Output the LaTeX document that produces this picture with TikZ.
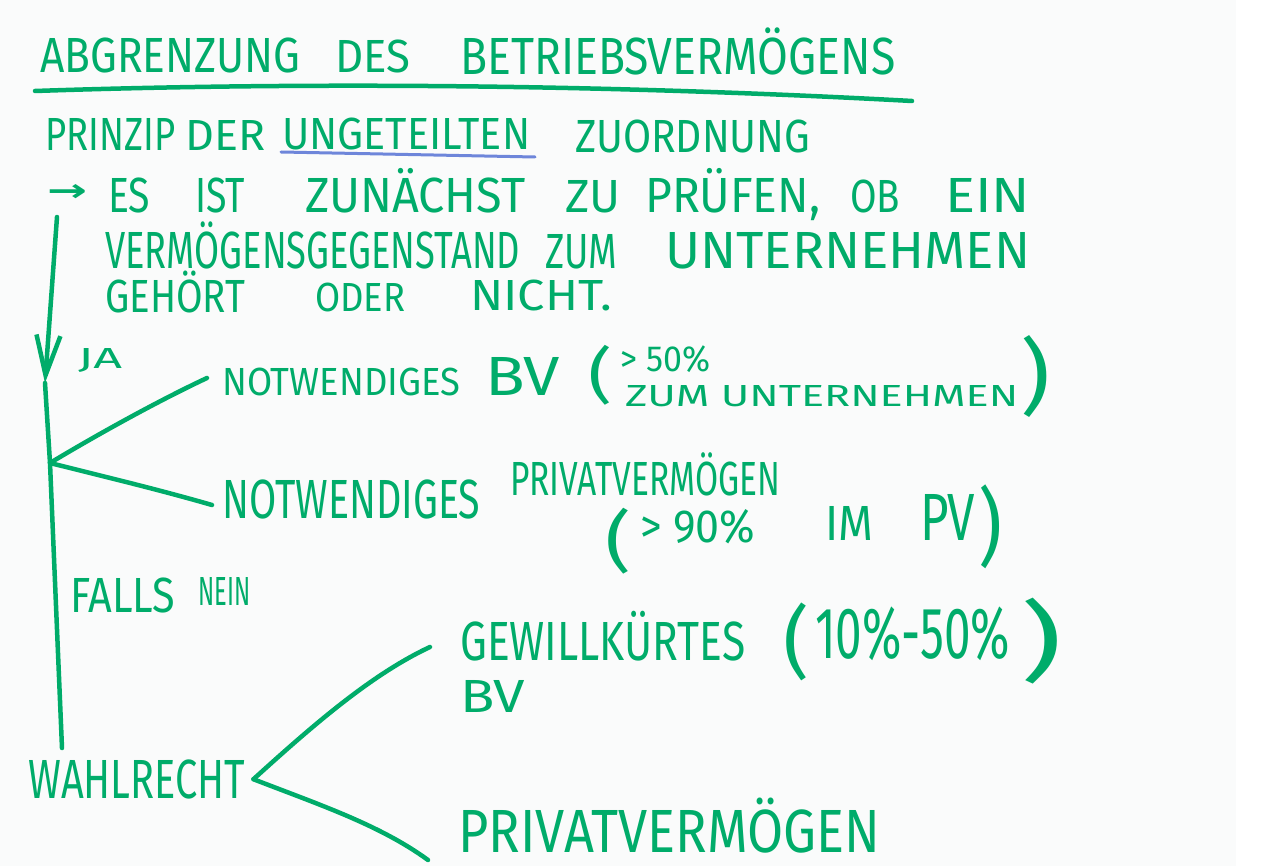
\documentclass[tikz,border=0pt]{standalone}
\usepackage{fontspec}
\setmainfont{Fira Sans}
\newfontfamily\arrowfont{DejaVu Sans}
\usetikzlibrary{arrows.meta}

\definecolor{ink}{RGB}{0,172,106}
\definecolor{blueink}{RGB}{75,105,210}
\definecolor{paper}{RGB}{250,251,251}

% handwritten word, squeezed into its box (width, cap height)
\newcommand{\hw}[3]{\resizebox{#1pt}{#2pt}{\smash{#3}\vphantom{X}}}
% tall bracket
\newcommand{\hp}[3]{\resizebox*{#1pt}{#2pt}{#3}}

\begin{document}
\begin{tikzpicture}[x=1pt,y=-1pt,
   hand/.style={inner sep=0pt, anchor=north west, text=ink},
   pen/.style={draw=ink, line width=4.5pt, line cap=round, line join=round}]
   \useasboundingbox (0,0) rectangle (1275,866);
   \fill[white] (0,0) rectangle (1275,866);
   \fill[paper] (0,0) rectangle (1236,866);

   % title
   \node[hand] (t1) at (40,38) {\hw{260}{34}{ABGRENZUNG}};
   \node[hand] (t2) at (335,40) {\hw{75}{32}{DES}};
   \node[hand] (t3) at (460,38) {\hw{435}{36}{BETRIEBSVERMÖGENS}};
   \draw[pen] (35,91) .. controls (300,82) and (600,84) .. (912,101);

   % principle
   \node[hand] (p1) at (45,118) {\hw{130}{32}{PRINZIP}};
   \node[hand] (p2) at (185,120) {\hw{80}{30}{DER}};
   \node[hand] (p3) at (282,118) {\hw{248}{31}{UNGETEILTEN}};
   \node[hand] (p4) at (575,120) {\hw{235}{32}{ZUORDNUNG}};
   \draw[draw=blueink, line width=3pt, line cap=round, opacity=0.8] (281,152) -- (535,157);

   % text
   \node[hand] (arr) at (47,184) {\hp{40}{17}{\arrowfont\bfseries →}};
   \node[hand] (a1) at (108,178) {\hw{42}{34}{ES}};
   \node[hand] (a2) at (195,178) {\hw{50}{34}{IST}};
   \node[hand] (a3) at (305,178) {\hw{220}{34}{ZUNÄCHST}};
   \node[hand] (a4) at (565,180) {\hw{55}{32}{ZU}};
   \node[hand] (a5) at (645,178) {\hw{175}{34}{PRÜFEN,}};
   \node[hand] (a6) at (850,180) {\hw{50}{32}{OB}};
   \node[hand] (a7) at (945,178) {\hw{85}{34}{EIN}};
   \node[hand] (b1) at (105,232) {\hw{415}{36}{VERMÖGENSGEGENSTAND}};
   \node[hand] (b2) at (545,234) {\hw{72}{34}{ZUM}};
   \node[hand] (b3) at (665,232) {\hw{365}{36}{UNTERNEHMEN}};
   \node[hand] (c1) at (105,280) {\hw{140}{32}{GEHÖRT}};
   \node[hand] (c2) at (315,283) {\hw{90}{28}{ODER}};
   \node[hand] (c3) at (470,280) {\hw{142}{30}{NICHT.}};

   % yes branch
   \node[hand] (ja) at (78,348) {\hw{44}{20}{JA}};
   \node[hand] (nbv1) at (222,368) {\hw{238}{27}{NOTWENDIGES}};
   \node[hand] (nbv2) at (485,357) {\hw{75}{38}{BV}};
   \node[hand] (nbv3) at (588,345) {\hp{24}{60}{(}};
   \node[hand] (nbv4) at (620,346) {\hw{90}{25}{> 50\%}};
   \node[hand] (nbv5) at (625,385) {\hw{393}{21}{ZUM UNTERNEHMEN}};
   \node[hand] (nbv6) at (1020,335) {\hp{30}{82}{)}};
   \node[hand] (npv1) at (222,480) {\hw{258}{38}{NOTWENDIGES}};
   \node[hand] (npv2) at (510,462) {\hw{270}{33}{PRIVATVERMÖGEN}};
   \node[hand] (npv3) at (605,508) {\hp{26}{66}{(}};
   \node[hand] (npv4) at (640,510) {\hw{115}{32}{> 90\%}};
   \node[hand] (npv5) at (825,506) {\hw{48}{34}{IM}};
   \node[hand] (npv6) at (920,494) {\hw{55}{46}{PV}};
   \node[hand] (npv7) at (978,485) {\hp{24}{84}{)}};

   % no branch
   \node[hand] (nein1) at (70,578) {\hw{105}{34}{FALLS}};
   \node[hand] (nein2) at (198,577) {\hw{52}{28}{NEIN}};
   \node[hand] (wahl) at (28,760) {\hw{217}{38}{WAHLRECHT}};
   \node[hand] (gbv1) at (460,622) {\hw{285}{38}{GEWILLKÜRTES}};
   \node[hand] (gbv2) at (783,603) {\hp{26}{78}{(}};
   \node[hand] (gbv3) at (815,608) {\hw{195}{50}{10\%-50\%}};
   \node[hand] (gbv4) at (1020,598) {\hp{42}{86}{)}};
   \node[hand] (gbv5) at (460,680) {\hw{65}{32}{BV}};
   \node[hand] (pv) at (458,810) {\hw{422}{42}{PRIVATVERMÖGEN}};

   % connectors
   \coordinate (flowTop) at (57,217);
   \coordinate (jaTip) at (45,383);
   \coordinate (forkJa) at (50,463);
   \coordinate (flowEnd) at (62,748);
   \coordinate (nbvEnd) at (207,378);
   \coordinate (npvEnd) at (212,505);
   \coordinate (forkWahl) at ([xshift=8pt]wahl.east);
   \coordinate (gbvEnd) at (430,647);
   \coordinate (pvEnd) at (428,860);

   \draw[pen, -{Straight Barb[length=40pt,width=24pt]}] (flowTop) -- (jaTip);
   \draw[pen] (jaTip) -- (forkJa) -- (flowEnd);
   \draw[pen] (forkJa) .. controls (100,433) and (160,400) .. (nbvEnd);
   \draw[pen] (forkJa) .. controls (110,478) and (160,490) .. (npvEnd);
   \draw[pen] (forkWahl) .. controls (310,728) and (370,675) .. (gbvEnd);
   \draw[pen] (forkWahl) .. controls (320,805) and (380,825) .. (pvEnd);
\end{tikzpicture}
\end{document}
